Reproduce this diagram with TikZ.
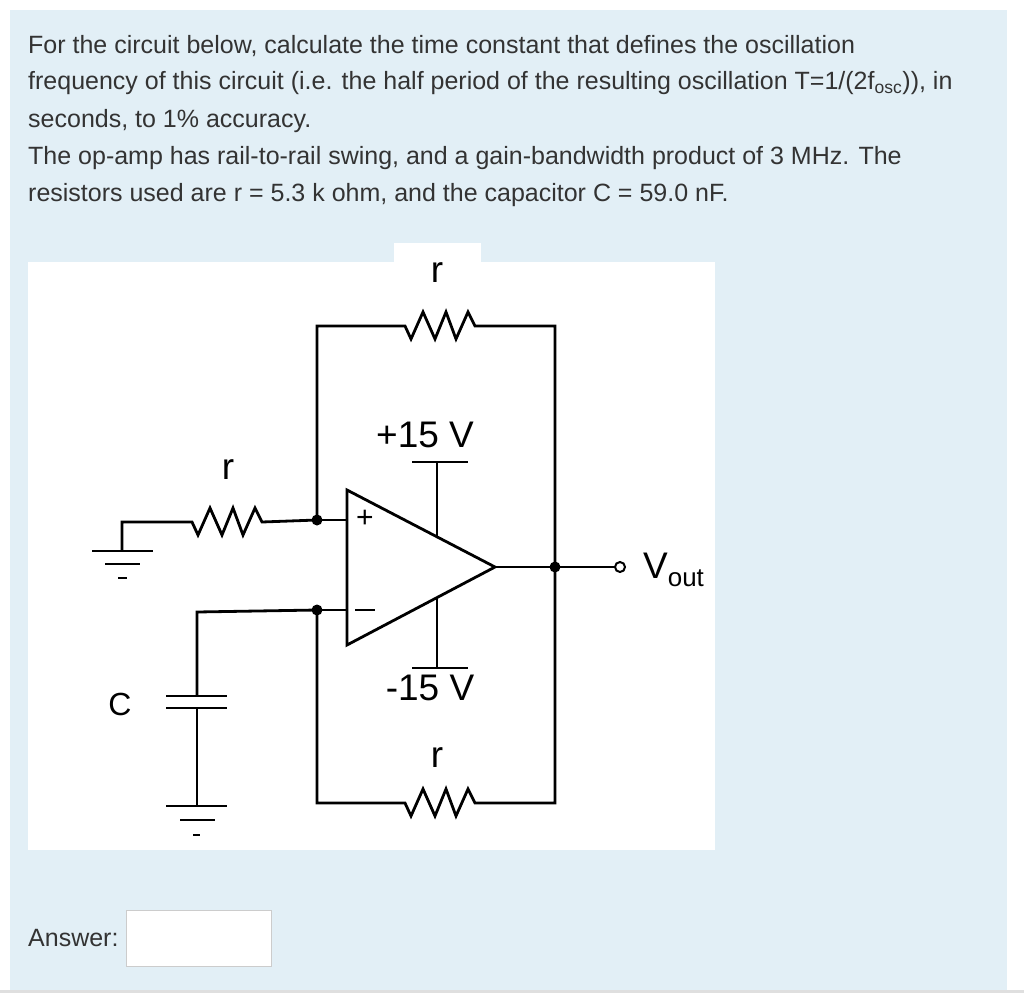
\documentclass[tikz,border=0pt]{standalone}
\usepackage{fontspec}
\setmainfont{Liberation Sans}
\definecolor{panel}{HTML}{E2EFF6}
\definecolor{txt}{HTML}{333333}
\tikzset{
  wire/.style={line width=2.8pt,black,line join=miter},
  dot/.style={circle,fill=black,inner sep=0pt,minimum size=11pt},
  para/.style={anchor=west,inner sep=0pt,text=txt,font=\fontsize{25}{28}\selectfont},
  lab/.style={inner sep=0pt,font=\fontsize{37}{40}\selectfont}
}
\begin{document}
\begin{tikzpicture}[x=1pt,y=-1pt]
\useasboundingbox (0,0) rectangle (1024,993);
\fill[white] (0,0) rectangle (1024,993);
\fill[panel] (10,10) rectangle (1007,990);
\fill[gray!25] (0,990) rectangle (1024,993);
\node[para] (l1) at (28,46) {For the circuit below, calculate the time constant that defines the oscillation};
\node[para] (l2) at (28,83) {frequency of this circuit (i.e. the half period of the resulting oscillation T=1/(2f\textsubscript{osc})), in};
\node[para] (l3) at (28,121) {seconds, to 1\% accuracy.};
\node[para] (l4) at (28,158) {The op-amp has rail-to-rail swing, and a gain-bandwidth product of 3 MHz. The};
\node[para] (l5) at (28,195) {resistors used are r = 5.3 k ohm, and the capacitor C = 59.0 nF.};
% circuit panel
\fill[white] (28,262) rectangle (715,850);
\fill[white] (394,243) rectangle (481,262);
% opamp
\draw[wire] (347,490) -- (495,567) -- (347,645) -- cycle;
\node[lab,font=\fontsize{30}{30}\selectfont] (plus) at (365,519) {+};
\draw[line width=2pt] (355,610) -- (375,610);
\coordinate (np) at (317,520);
\coordinate (nm) at (317,610);
\node[dot] (dp) at (np) {};
\node[dot] (dm) at (nm) {};
\node[dot] (dout) at (555,567) {};
\node[circle,draw,line width=2pt,fill=white,inner sep=0pt,minimum size=10pt] (term) at (620,567) {};
\draw[wire] (np) -- (347,520);
\draw[wire] (nm) -- (347,610);
\draw[wire] (495,567) -- (term.west);
\node[lab,anchor=west] (vout) at (643,570) {V\textsubscript{out}};
% supply
\draw[wire] (437,462) -- (437,537);
\draw[wire] (412,462) -- (468,462);
\node[lab] (vp) at (425,435) {+15 V};
\draw[wire] (437,597) -- (437,668);
\draw[wire] (412,668) -- (468,668);
\node[lab] (vm) at (430,688) {-15 V};
% top resistor
\draw[wire] (np) -- (317,326) -- (405,326) -- ++(6,13) -- ++(12,-27) -- ++(12,27) -- ++(11,-27) -- ++(10,27) -- ++(12,-27) -- ++(7,14) -- (555,326) -- (dout.center);
\node[lab] (rt) at (437,273) {r};
% bottom resistor
\draw[wire] (nm) -- (317,803) -- (405,803) -- ++(6,13) -- ++(12,-27) -- ++(12,27) -- ++(11,-27) -- ++(10,27) -- ++(12,-27) -- ++(7,14) -- (555,803) -- (dout.center);
\node[lab] (rb) at (437,758) {r};
% left resistor to ground
\draw[wire] (np) -- (262,522) -- ++(-7,-14) -- ++(-12,27) -- ++(-10,-27) -- ++(-11,27) -- ++(-12,-27) -- ++(-12,27) -- ++(-6,-13) -- (122,522) -- (122,551);
\draw[wire] (92,551) -- (153,551);
\draw[wire] (105,564) -- (140,564);
\draw[wire] (118,578) -- (127,578);
\node[lab] (rl) at (228,470) {r};
% capacitor
\draw[wire] (nm) -- (197,612) -- (197,696);
\draw[wire] (166,696) -- (227,696);
\draw[wire] (166,708) -- (227,708);
\draw[wire] (197,708) -- (197,806);
\draw[wire] (166,806) -- (227,806);
\draw[wire] (180,820) -- (215,820);
\draw[wire] (193,835) -- (200,835);
\node[lab,font=\fontsize{32}{32}\selectfont] (cl) at (120,704) {C};
% answer
\node[para] (ans) at (28,938) {Answer:};
\draw[gray!40,fill=white,line width=1pt] (126,910) rectangle (271,966);
\end{tikzpicture}
\end{document}
